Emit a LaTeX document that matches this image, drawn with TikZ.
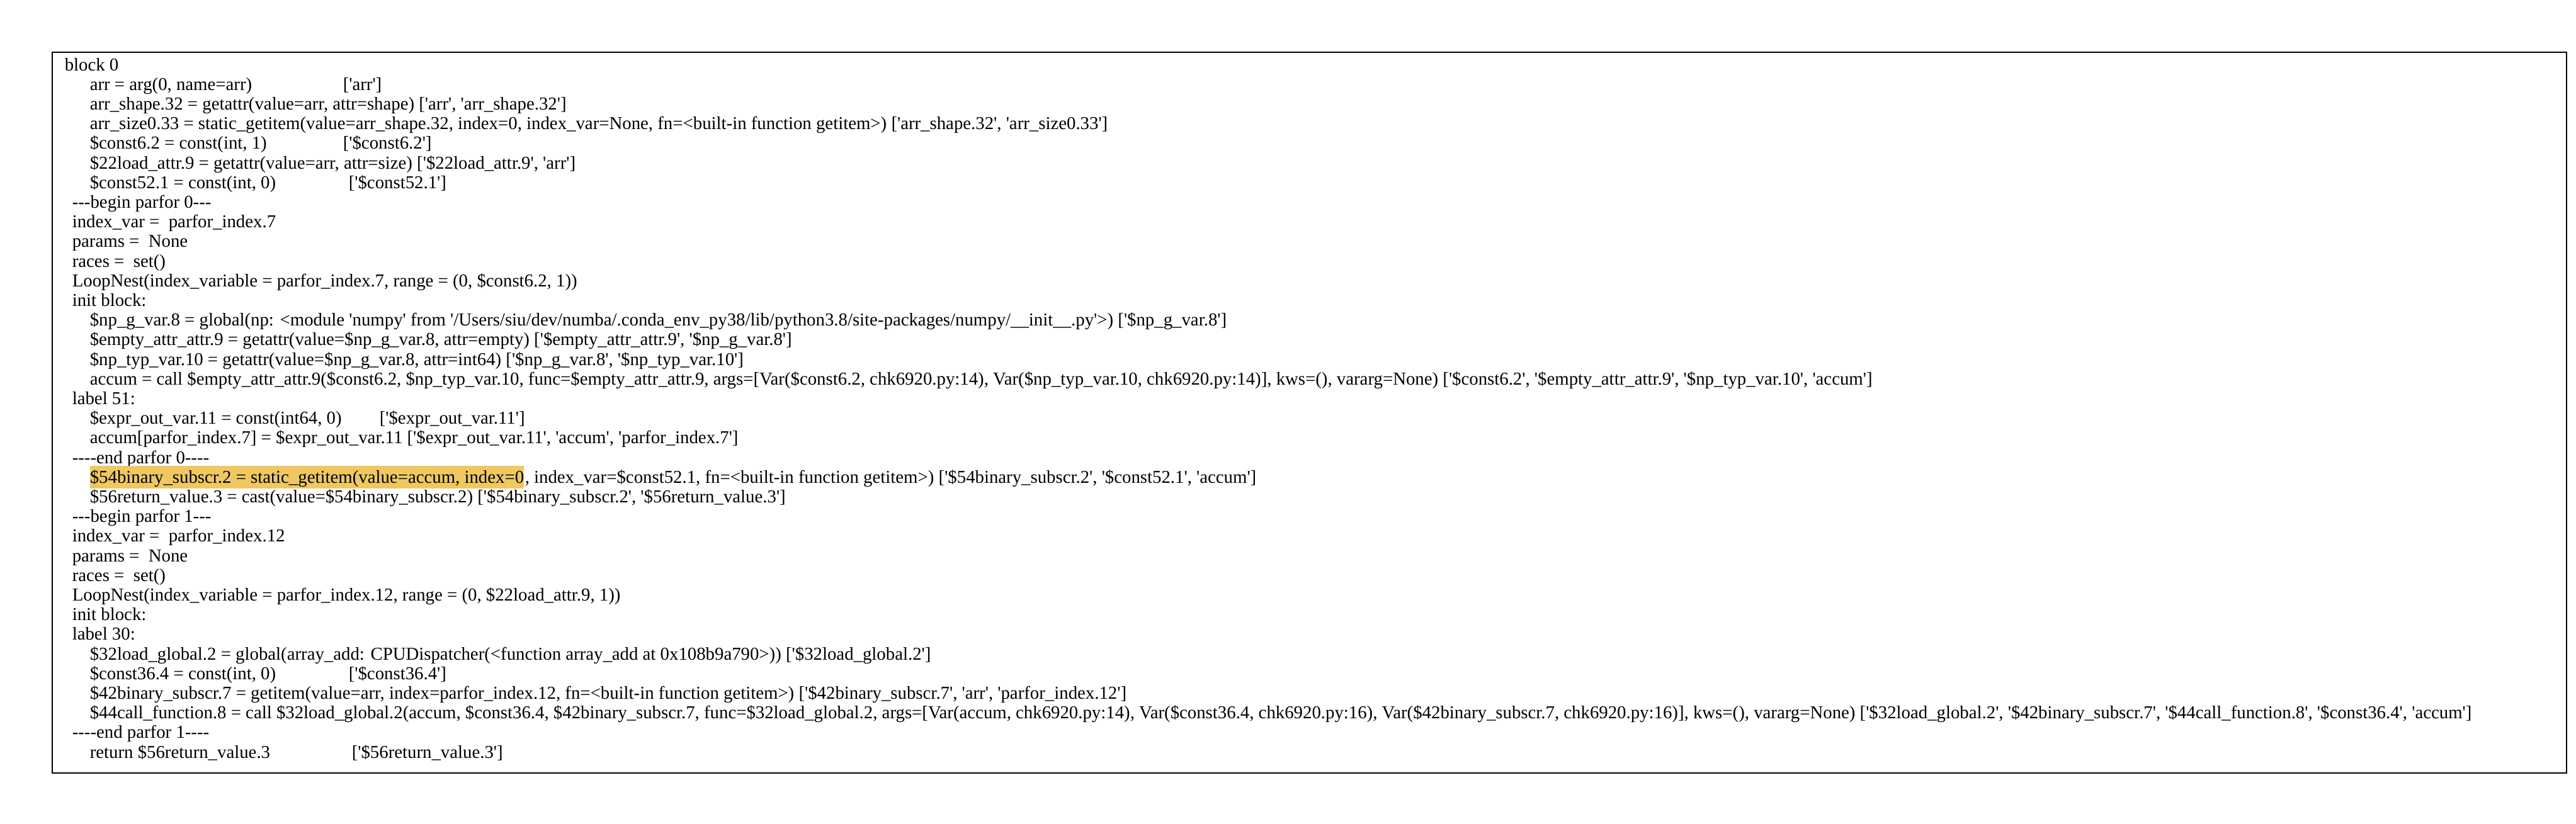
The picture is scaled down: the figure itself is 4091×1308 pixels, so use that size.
\documentclass[tikz,border=0pt]{standalone}
\usepackage{fontspec}
\setmainfont{Liberation Serif}[Ligatures=TeXOff]
\definecolor{hl}{HTML}{EFC862}
\begin{document}
\begin{tikzpicture}[x=0.25pt,y=-0.25pt,
  txt/.style={anchor=base west,inner sep=0pt,font=\fontsize{7.2pt}{7.8pt}\selectfont}]
\useasboundingbox (0,0) rectangle (4091,1308);
\draw[line width=0.7pt] (83,83) rectangle (4076,1228) ;
\def\B{102}\def\P{114}\def\C{142}
\newcommand\yy[1]{112+31.2*#1}
\node[txt] (l0) at (\B,{\yy{0}}) {block 0};
\node[txt] (l1) at (\C,{\yy{1}}) {arr = arg(0, name=arr)};
\node[txt] (l1b) at (544,{\yy{1}}) {['arr']};
\node[txt] (l2) at (\C,{\yy{2}}) {arr\_shape.32 = getattr(value=arr, attr=shape) ['arr', 'arr\_shape.32']};
\node[txt] (l3) at (\C,{\yy{3}}) {arr\_size0.33 = static\_getitem(value=arr\_shape.32, index=0, index\_var=None, fn=<built-in function getitem>) ['arr\_shape.32', 'arr\_size0.33']};
\node[txt] (l4) at (\C,{\yy{4}}) {\$const6.2 = const(int, 1)};
\node[txt] (l4b) at (544,{\yy{4}}) {['\$const6.2']};
\node[txt] (l5) at (\C,{\yy{5}}) {\$22load\_attr.9 = getattr(value=arr, attr=size) ['\$22load\_attr.9', 'arr']};
\node[txt] (l6) at (\C,{\yy{6}}) {\$const52.1 = const(int, 0)};
\node[txt] (l6b) at (553,{\yy{6}}) {['\$const52.1']};
\node[txt] (l7) at (\P,{\yy{7}}) {---begin parfor 0---};
\node[txt] (l8) at (\P,{\yy{8}}) {index\_var = \ parfor\_index.7};
\node[txt] (l9) at (\P,{\yy{9}}) {params = \ None};
\node[txt] (l10) at (\P,{\yy{10}}) {races = \ set()};
\node[txt] (l11) at (\P,{\yy{11}}) {LoopNest(index\_variable = parfor\_index.7, range = (0, \$const6.2, 1))};
\node[txt] (l12) at (\P,{\yy{12}}) {init block:};
\node[txt] (l13) at (\C,{\yy{13}}) {\$np\_g\_var.8 = global(np: <module 'numpy' from '/Users/siu/dev/numba/.conda\_env\_py38/lib/python3.8/site-packages/numpy/\_\_init\_\_.py'>) ['\$np\_g\_var.8']};
\node[txt] (l14) at (\C,{\yy{14}}) {\$empty\_attr\_attr.9 = getattr(value=\$np\_g\_var.8, attr=empty) ['\$empty\_attr\_attr.9', '\$np\_g\_var.8']};
\node[txt] (l15) at (\C,{\yy{15}}) {\$np\_typ\_var.10 = getattr(value=\$np\_g\_var.8, attr=int64) ['\$np\_g\_var.8', '\$np\_typ\_var.10']};
\node[txt] (l16) at (\C,{\yy{16}}) {accum = call \$empty\_attr\_attr.9(\$const6.2, \$np\_typ\_var.10, func=\$empty\_attr\_attr.9, args=[Var(\$const6.2, chk6920.py:14), Var(\$np\_typ\_var.10, chk6920.py:14)], kws=(), vararg=None) ['\$const6.2', '\$empty\_attr\_attr.9', '\$np\_typ\_var.10', 'accum']};
\node[txt] (l17) at (\P,{\yy{17}}) {label 51:};
\node[txt] (l18) at (\C,{\yy{18}}) {\$expr\_out\_var.11 = const(int64, 0)};
\node[txt] (l18b) at (602,{\yy{18}}) {['\$expr\_out\_var.11']};
\node[txt] (l19) at (\C,{\yy{19}}) {accum[parfor\_index.7] = \$expr\_out\_var.11 ['\$expr\_out\_var.11', 'accum', 'parfor\_index.7']};
\node[txt] (l20) at (\P,{\yy{20}}) {----end parfor 0----};
\node[txt,fill=hl,inner ysep=1.6pt,text depth=0.5pt] (l21) at (\C,{\yy{21}}) {\$54binary\_subscr.2 = static\_getitem(value=accum, index=0};
\node[txt] (l21b) at (l21.base east) {, index\_var=\$const52.1, fn=<built-in function getitem>) ['\$54binary\_subscr.2', '\$const52.1', 'accum']};
\node[txt] (l22) at (\C,{\yy{22}}) {\$56return\_value.3 = cast(value=\$54binary\_subscr.2) ['\$54binary\_subscr.2', '\$56return\_value.3']};
\node[txt] (l23) at (\P,{\yy{23}}) {---begin parfor 1---};
\node[txt] (l24) at (\P,{\yy{24}}) {index\_var = \ parfor\_index.12};
\node[txt] (l25) at (\P,{\yy{25}}) {params = \ None};
\node[txt] (l26) at (\P,{\yy{26}}) {races = \ set()};
\node[txt] (l27) at (\P,{\yy{27}}) {LoopNest(index\_variable = parfor\_index.12, range = (0, \$22load\_attr.9, 1))};
\node[txt] (l28) at (\P,{\yy{28}}) {init block:};
\node[txt] (l29) at (\P,{\yy{29}}) {label 30:};
\node[txt] (l30) at (\C,{\yy{30}}) {\$32load\_global.2 = global(array\_add: CPUDispatcher(<function array\_add at 0x108b9a790>)) ['\$32load\_global.2']};
\node[txt] (l31) at (\C,{\yy{31}}) {\$const36.4 = const(int, 0)};
\node[txt] (l31b) at (553,{\yy{31}}) {['\$const36.4']};
\node[txt] (l32) at (\C,{\yy{32}}) {\$42binary\_subscr.7 = getitem(value=arr, index=parfor\_index.12, fn=<built-in function getitem>) ['\$42binary\_subscr.7', 'arr', 'parfor\_index.12']};
\node[txt] (l33) at (\C,{\yy{33}}) {\$44call\_function.8 = call \$32load\_global.2(accum, \$const36.4, \$42binary\_subscr.7, func=\$32load\_global.2, args=[Var(accum, chk6920.py:14), Var(\$const36.4, chk6920.py:16), Var(\$42binary\_subscr.7, chk6920.py:16)], kws=(), vararg=None) ['\$32load\_global.2', '\$42binary\_subscr.7', '\$44call\_function.8', '\$const36.4', 'accum']};
\node[txt] (l34) at (\P,{\yy{34}}) {----end parfor 1----};
\node[txt] (l35) at (\C,{\yy{35}}) {return \$56return\_value.3};
\node[txt] (l35b) at (558,{\yy{35}}) {['\$56return\_value.3']};
\end{tikzpicture}
\end{document}
